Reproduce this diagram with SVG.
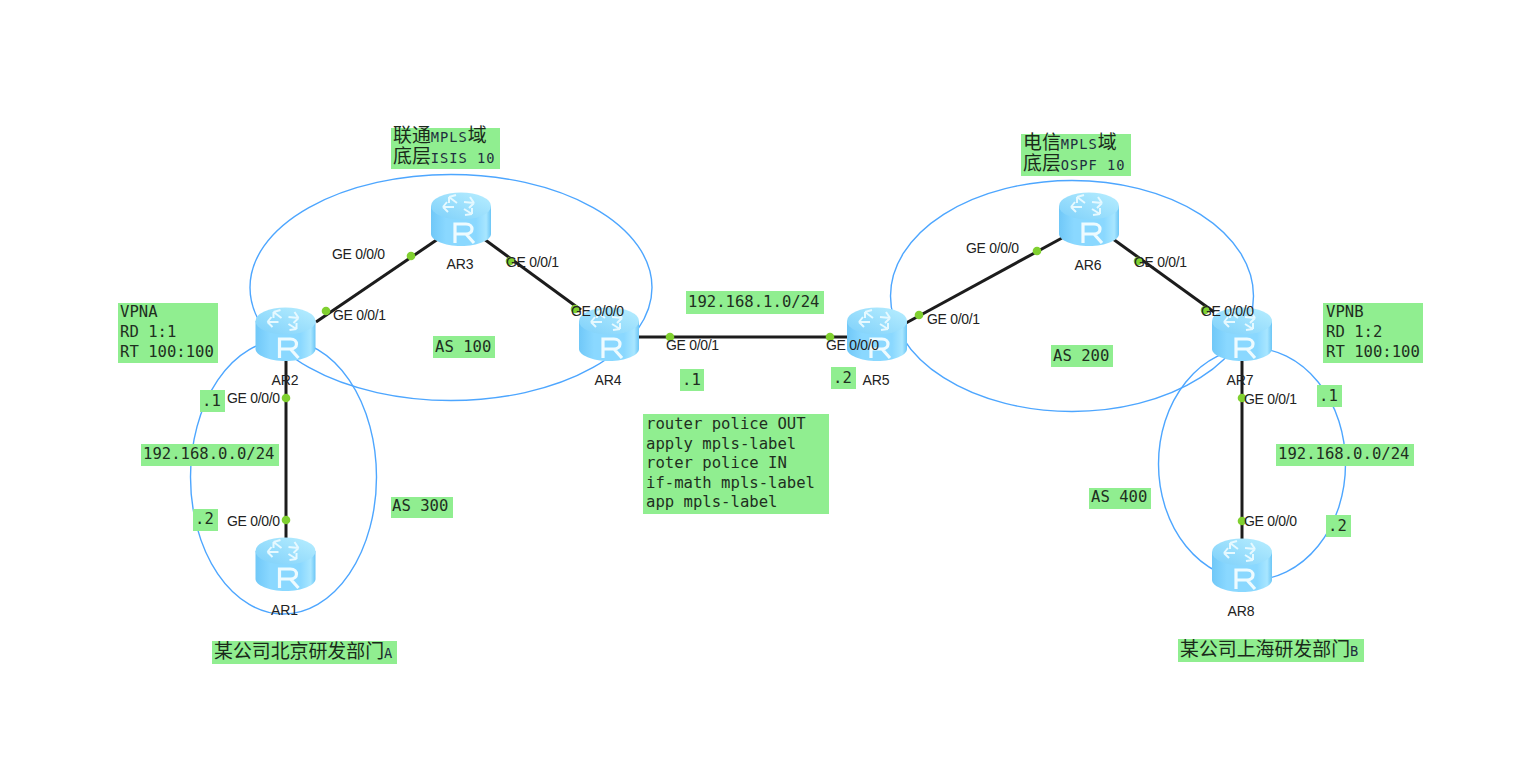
<svg xmlns="http://www.w3.org/2000/svg" width="1536" height="770" viewBox="0 0 1536 770">
<style>
.bg{fill:#fff}
.area{fill:none;stroke:#4da6ff;stroke-width:1.4}
.link{stroke:#1c1c1c;stroke-width:3;fill:none}
.dot{fill:#80d030}
.note{fill:#90ee90}
.mono{font-family:"DejaVu Sans Mono","Liberation Mono","Noto Sans CJK SC",monospace;font-size:15.6px;fill:#1f2f1f}
.cjk{font-family:"Noto Sans CJK SC","DejaVu Sans Mono",sans-serif;font-size:18.9px;fill:#1a2a1a}
.sm{font-family:"DejaVu Sans Mono","Liberation Mono",monospace;font-size:13.7px;letter-spacing:1px;fill:#1f2f3f}
.lbl{font-family:"Liberation Sans",Arial,sans-serif;font-size:14px;fill:#222;letter-spacing:-.3px}
.name{font-family:"Liberation Sans",Arial,sans-serif;font-size:14px;fill:#222;letter-spacing:-.1px;text-anchor:middle}
</style>
<defs>
<linearGradient id="body" x1="0" x2="1" y1="0" y2="0">
<stop offset="0" stop-color="#70c8f8"/><stop offset=".25" stop-color="#8ad8ff"/><stop offset=".75" stop-color="#8ad8ff"/><stop offset=".92" stop-color="#a8e6ff"/><stop offset="1" stop-color="#6cc6f6"/>
</linearGradient>
<linearGradient id="top" x1="0" x2="1" y1="1" y2="0">
<stop offset="0" stop-color="#7ed0fa"/><stop offset="1" stop-color="#b8eeff"/>
</linearGradient>
<g id="router">
<path d="M-30 -14V14C-30 20 -17 26 0 26S30 20 30 14V-14Z" fill="url(#body)"/>
<ellipse cx="0" cy="-14" rx="30" ry="13.500" fill="url(#top)"/>
<g fill="none" stroke="#e6f9ff" stroke-width="2">
<path d="M-4 -17L-12 -23M-12 -23L-5 -25M-12 -23L-12 -17"/>
<path d="M3 -18L13 -17M13 -17L9 -23M13 -17L8 -12"/>
<path d="M3 -11L11 -6M11 -6L11 -12M11 -6L4 -5"/>
<path d="M-7 -13L-18 -13M-18 -13L-14 -18M-18 -13L-13 -8"/>
</g>
<path d="M-6 23V4H5C13 4 13 14 5 14H-6M5 14L13 23" fill="none" stroke="#eefbff" stroke-width="3.200"/>
</g>
</defs>
<rect class="bg" width="1536" height="770"/>
<g id="areas">
<ellipse class="area" cx="451" cy="287.500" rx="201" ry="113"/>
<ellipse class="area" cx="283.500" cy="477" rx="93" ry="137"/>
<ellipse class="area" cx="1072" cy="296" rx="181.500" ry="115.500"/>
<ellipse class="area" cx="1252" cy="464" rx="93.500" ry="116"/>
</g>
<g id="connectors">
<path class="link" d="M286 360V540"/>
<path class="link" d="M316 322L438 239"/>
<path class="link" d="M484 239L581 310"/>
<path class="link" d="M639 337H848"/>
<path class="link" d="M906 323L1062 238"/>
<path class="link" d="M1113 239L1214 312"/>
<path class="link" d="M1242 361V540"/>
</g>
<g id="AR1"><use href="#router" x="285.500" y="565"/><text class="name" x="284.500" y="615">AR1</text></g>
<g id="AR2"><use href="#router" x="285.500" y="335"/><text class="name" x="285" y="385">AR2</text></g>
<g id="AR3"><use href="#router" x="461" y="220"/><text class="name" x="460" y="269">AR3</text></g>
<g id="AR4"><use href="#router" x="609" y="335"/><text class="name" x="608" y="385">AR4</text></g>
<g id="AR5"><use href="#router" x="877" y="335"/><text class="name" x="876" y="385">AR5</text></g>
<g id="AR6"><use href="#router" x="1089" y="220"/><text class="name" x="1088" y="270">AR6</text></g>
<g id="AR7"><use href="#router" x="1242" y="335"/><text class="name" x="1240" y="385">AR7</text></g>
<g id="AR8"><use href="#router" x="1242" y="566"/><text class="name" x="1241" y="616">AR8</text></g>
<g id="ports">
<circle class="dot" cx="286" cy="398" r="4.300"/><circle class="dot" cx="286" cy="520" r="4.300"/>
<circle class="dot" cx="326" cy="311" r="4.300"/><circle class="dot" cx="411" cy="256" r="4.300"/>
<circle class="dot" cx="510" cy="261" r="4.300"/><circle class="dot" cx="575" cy="309" r="4.300"/>
<circle class="dot" cx="670" cy="337" r="4.300"/><circle class="dot" cx="830" cy="337" r="4.300"/>
<circle class="dot" cx="919" cy="315" r="4.300"/><circle class="dot" cx="1037" cy="251" r="4.300"/>
<circle class="dot" cx="1138" cy="261" r="4.300"/><circle class="dot" cx="1205" cy="310" r="4.300"/>
<circle class="dot" cx="1242" cy="398" r="4.300"/><circle class="dot" cx="1242" cy="521" r="4.300"/>
<text class="lbl" x="227" y="403">GE 0/0/0</text><text class="lbl" x="227" y="526">GE 0/0/0</text>
<text class="lbl" x="333" y="320">GE 0/0/1</text><text class="lbl" x="332" y="259">GE 0/0/0</text>
<text class="lbl" x="506" y="267">GE 0/0/1</text><text class="lbl" x="571" y="316">GE 0/0/0</text>
<text class="lbl" x="666" y="350">GE 0/0/1</text><text class="lbl" x="826" y="350">GE 0/0/0</text>
<text class="lbl" x="927" y="324">GE 0/0/1</text><text class="lbl" x="966" y="253">GE 0/0/0</text>
<text class="lbl" x="1134" y="267">GE 0/0/1</text><text class="lbl" x="1201" y="316">GE 0/0/0</text>
<text class="lbl" x="1244" y="404">GE 0/0/1</text><text class="lbl" x="1244" y="526">GE 0/0/0</text>
</g>
<g id="notes">
<rect class="note" x="118" y="303" width="100" height="60"/>
<text class="mono" x="120" y="317">VPNA</text><text class="mono" x="120" y="337">RD 1:1</text><text class="mono" x="120" y="357">RT 100:100</text>
<rect class="note" x="200" y="390" width="25" height="22"/><text class="mono" x="202" y="406">.1</text>
<rect class="note" x="141" y="444" width="138" height="22"/><text class="mono" x="143" y="459">192.168.0.0/24</text>
<rect class="note" x="193" y="509" width="25" height="22"/><text class="mono" x="195" y="524">.2</text>
<rect class="note" x="391" y="497" width="62" height="21"/><text class="mono" x="392" y="511">AS 300</text>
<rect class="note" x="212" y="641" width="185" height="23"/><text class="cjk" x="214" y="658">某公司北京研发部门<tspan class="sm">A</tspan></text>
<rect class="note" x="391" y="128" width="109" height="41"/><text class="cjk" x="393" y="142">联通<tspan class="sm">MPLS</tspan>域<tspan x="393" dy="21">底层</tspan><tspan class="sm">ISIS 10</tspan></text>
<rect class="note" x="433" y="336" width="62" height="22"/><text class="mono" x="435" y="352">AS 100</text>
<rect class="note" x="686" y="291" width="138" height="23"/><text class="mono" x="688" y="307">192.168.1.0/24</text>
<rect class="note" x="680" y="369" width="24" height="22"/><text class="mono" x="682" y="385">.1</text>
<rect class="note" x="831" y="367" width="25" height="22"/><text class="mono" x="833" y="383">.2</text>
<rect class="note" x="643" y="414" width="186" height="100"/>
<text class="mono" x="646" y="429">router police OUT</text><text class="mono" x="646" y="449">apply mpls-label</text><text class="mono" x="646" y="468">roter police IN</text><text class="mono" x="646" y="488">if-math mpls-label</text><text class="mono" x="646" y="507">app mpls-label</text>
<rect class="note" x="1021" y="134" width="110" height="42"/><text class="cjk" x="1023" y="149">电信<tspan class="sm">MPLS</tspan>域<tspan x="1023" dy="21">底层</tspan><tspan class="sm">OSPF 10</tspan></text>
<rect class="note" x="1051" y="345" width="62" height="22"/><text class="mono" x="1053" y="361">AS 200</text>
<rect class="note" x="1323" y="303" width="100" height="60"/>
<text class="mono" x="1326" y="317">VPNB</text><text class="mono" x="1326" y="337">RD 1:2</text><text class="mono" x="1326" y="357">RT 100:100</text>
<rect class="note" x="1317" y="385" width="25" height="22"/><text class="mono" x="1319" y="401">.1</text>
<rect class="note" x="1276" y="444" width="138" height="22"/><text class="mono" x="1278" y="459">192.168.0.0/24</text>
<rect class="note" x="1089" y="488" width="62" height="21"/><text class="mono" x="1091" y="502">AS 400</text>
<rect class="note" x="1326" y="515" width="25" height="22"/><text class="mono" x="1328" y="531">.2</text>
<rect class="note" x="1178" y="639" width="186" height="23"/><text class="cjk" x="1180" y="656">某公司上海研发部门<tspan class="sm">B</tspan></text>
</g>
</svg>
